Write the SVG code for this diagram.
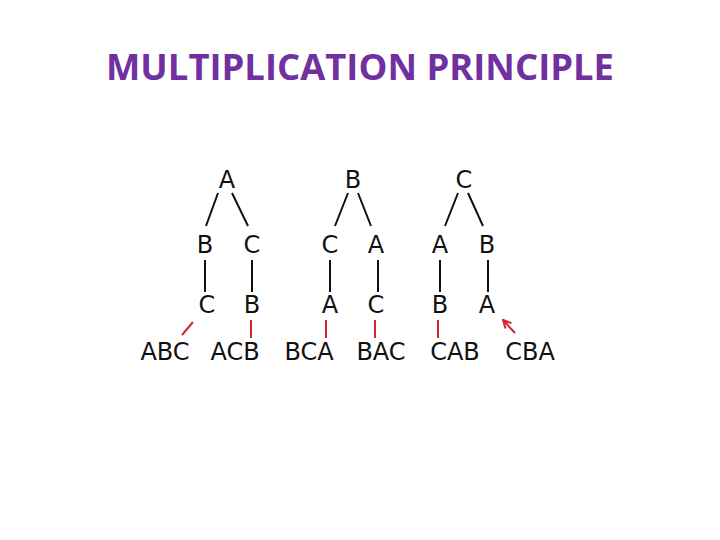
<svg xmlns="http://www.w3.org/2000/svg" width="720" height="540" viewBox="0 0 720 540">
<style>
.t{font-family:"DejaVu Sans",sans-serif;font-size:24px;fill:#111;text-anchor:middle}
.e{stroke:#111;stroke-width:2;fill:none}
.r{stroke:#d0282e;stroke-width:2;fill:none}
</style>
<defs><marker id="ah" viewBox="0 0 10 10" refX="9" refY="5" markerWidth="5" markerHeight="5" orient="auto"><path d="M1,1 L9,5 L1,9" fill="none" stroke="#d0282e" stroke-width="2"/></marker></defs>
<rect width="720" height="540" fill="#fff"/>
<text x="360" y="80" font-family="'Open Sans',sans-serif" font-weight="bold" font-size="36" fill="#7030a0" text-anchor="middle" textLength="508" lengthAdjust="spacingAndGlyphs">MULTIPLICATION PRINCIPLE</text>
<g id="connectors">
<path class="e" d="M218,193 L206,226 M232,193 L248,226 M205,260 V292 M252,260 V292"/>
<path class="e" d="M348,193 L335,226 M358,193 L371,226 M330,260 V292 M378,260 V292"/>
<path class="e" d="M458,193 L445,226 M468,193 L483,226 M440,260 V292 M488,260 V292"/>
<path class="r" marker-end="url(#ah)" d="M182,335 L193,322 M251,338 V320 M326,338 V320 M375,338 V320 M438,338 V320 M515,333 L503,320"/>
</g>
<g id="tree-A"><text class="t" x="227" y="188">A</text><text class="t" x="205" y="253">B</text><text class="t" x="252" y="253">C</text><text class="t" x="207" y="313">C</text><text class="t" x="252" y="313">B</text></g>
<g id="tree-B"><text class="t" x="353" y="188">B</text><text class="t" x="330" y="253">C</text><text class="t" x="376" y="253">A</text><text class="t" x="330" y="313">A</text><text class="t" x="376" y="313">C</text></g>
<g id="tree-C"><text class="t" x="464" y="188">C</text><text class="t" x="440" y="253">A</text><text class="t" x="487" y="253">B</text><text class="t" x="440" y="313">B</text><text class="t" x="487" y="313">A</text></g>
<g id="results"><text class="t" x="165" y="360">ABC</text><text class="t" x="235" y="360">ACB</text><text class="t" x="309" y="360">BCA</text><text class="t" x="381" y="360">BAC</text><text class="t" x="455" y="360">CAB</text><text class="t" x="530" y="360">CBA</text></g>
</svg>
